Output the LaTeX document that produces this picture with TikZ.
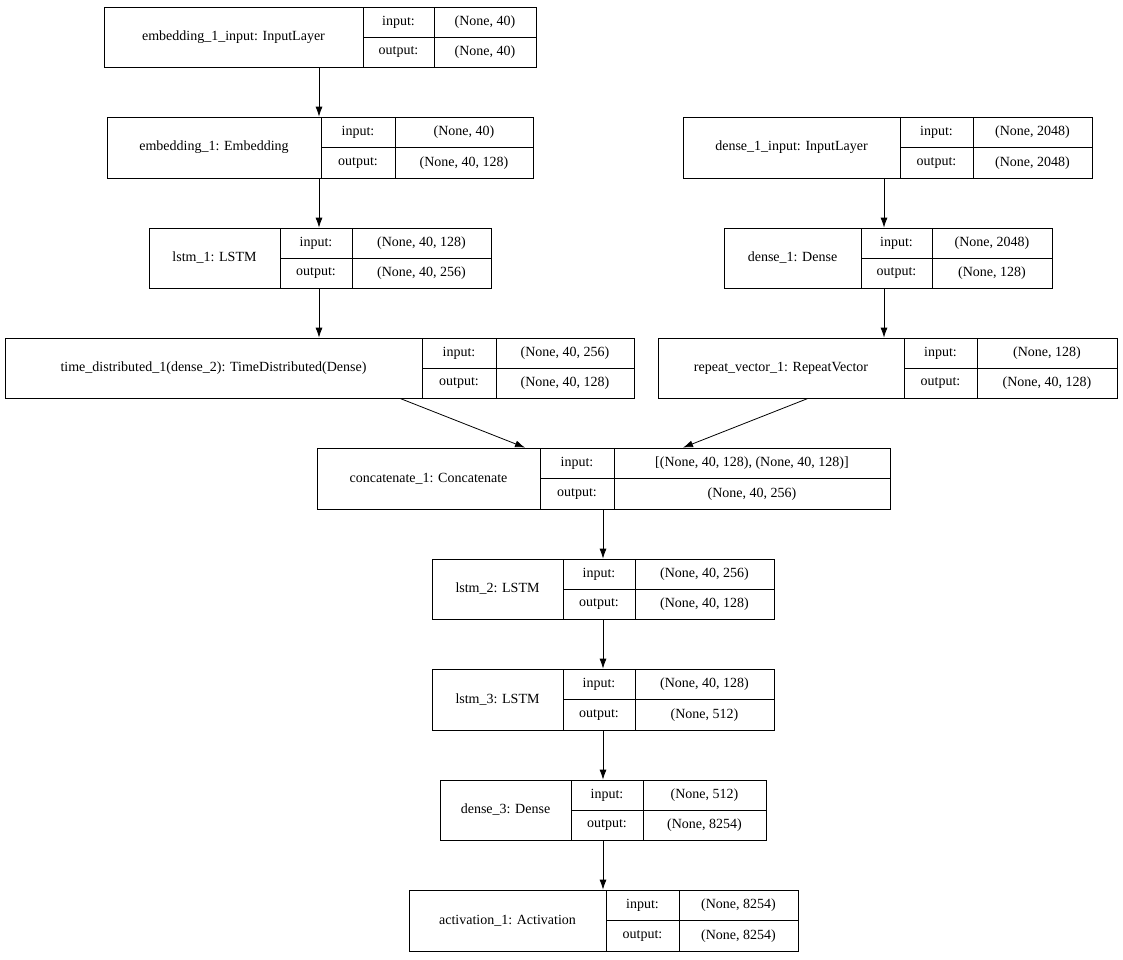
\documentclass[tikz,border=0pt]{standalone}
\usepackage{fontspec}
\setmainfont{Liberation Serif}
\usetikzlibrary{arrows.meta}
\newcommand\kbox[9]{%
 \node[draw,rectangle,inner sep=0pt,minimum width={#5-#2},minimum height={#7-#6}] (#1) at ({(#2+#5)/2},{(#6+#7)/2}) {};
 \draw (#3,#6)--(#3,#7) (#4,#6)--(#4,#7) (#3,{(#6+#7)/2})--(#5,{(#6+#7)/2});
 \node at ({(#2+#3)/2},{(#6+#7)/2}) {#8};
 \def\kA{#3}\def\kB{#4}\def\kC{#5}\def\kY{#6}\def\kZ{#7}\kio#9}
\newcommand\kio[2]{%
 \node at ({(\kA+\kB)/2},{(3*\kY+\kZ)/4}) {input:};
 \node at ({(\kA+\kB)/2},{(\kY+3*\kZ)/4}) {output:};
 \node at ({(\kB+\kC)/2},{(3*\kY+\kZ)/4}) {#1};
 \node at ({(\kB+\kC)/2},{(\kY+3*\kZ)/4}) {#2};}
\begin{document}
\begin{tikzpicture}[x=1pt,y=-1pt,line width=0.8pt,font=\fontsize{14}{16}\selectfont,
 arr/.style={-{Latex[length=10pt,width=7pt]}}]
\useasboundingbox (0,0) rectangle (1123,959);
\kbox{ei}{104}{363}{434}{536}{7}{67}{embedding\_1\_input: InputLayer}{{(None, 40)}{(None, 40)}}
\kbox{e}{107}{321}{395}{533}{117}{178}{embedding\_1: Embedding}{{(None, 40)}{(None, 40, 128)}}
\kbox{l1}{149}{280}{352}{491}{228}{288}{lstm\_1: LSTM}{{(None, 40, 128)}{(None, 40, 256)}}
\kbox{td}{5}{422}{496}{634}{338}{398}{time\_distributed\_1(dense\_2): TimeDistributed(Dense)}{{(None, 40, 256)}{(None, 40, 128)}}
\kbox{di}{683}{900}{973}{1092}{117}{178}{dense\_1\_input: InputLayer}{{(None, 2048)}{(None, 2048)}}
\kbox{d1}{724}{861}{932}{1052}{228}{288}{dense\_1: Dense}{{(None, 2048)}{(None, 128)}}
\kbox{rv}{658}{904}{977}{1117}{338}{398}{repeat\_vector\_1: RepeatVector}{{(None, 128)}{(None, 40, 128)}}
\kbox{cc}{317}{540}{614}{890}{448}{509}{concatenate\_1: Concatenate}{{[(None, 40, 128), (None, 40, 128)]}{(None, 40, 256)}}
\kbox{l2}{432}{563}{635}{774}{559}{619}{lstm\_2: LSTM}{{(None, 40, 256)}{(None, 40, 128)}}
\kbox{l3}{432}{563}{635}{774}{669}{730}{lstm\_3: LSTM}{{(None, 40, 128)}{(None, 512)}}
\kbox{d3}{440}{571}{643}{766}{780}{840}{dense\_3: Dense}{{(None, 512)}{(None, 8254)}}
\kbox{ac}{409}{606}{679}{798}{890}{951}{activation\_1: Activation}{{(None, 8254)}{(None, 8254)}}
\draw[arr] (ei.south -| 319,0) -- (e.north -| 319,0);
\draw[arr] (e.south -| 319,0) -- (l1.north -| 319,0);
\draw[arr] (l1.south -| 319,0) -- (td.north -| 319,0);
\draw[arr] (di.south -| 884,0) -- (d1.north -| 884,0);
\draw[arr] (d1.south -| 884,0) -- (rv.north -| 884,0);
\draw[arr] (td.south -| 400,0) -- (cc.north -| 525,0);
\draw[arr] (rv.south -| 808,0) -- (cc.north -| 683,0);
\draw[arr] (cc.south -| 603,0) -- (l2.north -| 603,0);
\draw[arr] (l2.south -| 603,0) -- (l3.north -| 603,0);
\draw[arr] (l3.south -| 603,0) -- (d3.north -| 603,0);
\draw[arr] (d3.south -| 603,0) -- (ac.north -| 603,0);
\end{tikzpicture}
\end{document}
